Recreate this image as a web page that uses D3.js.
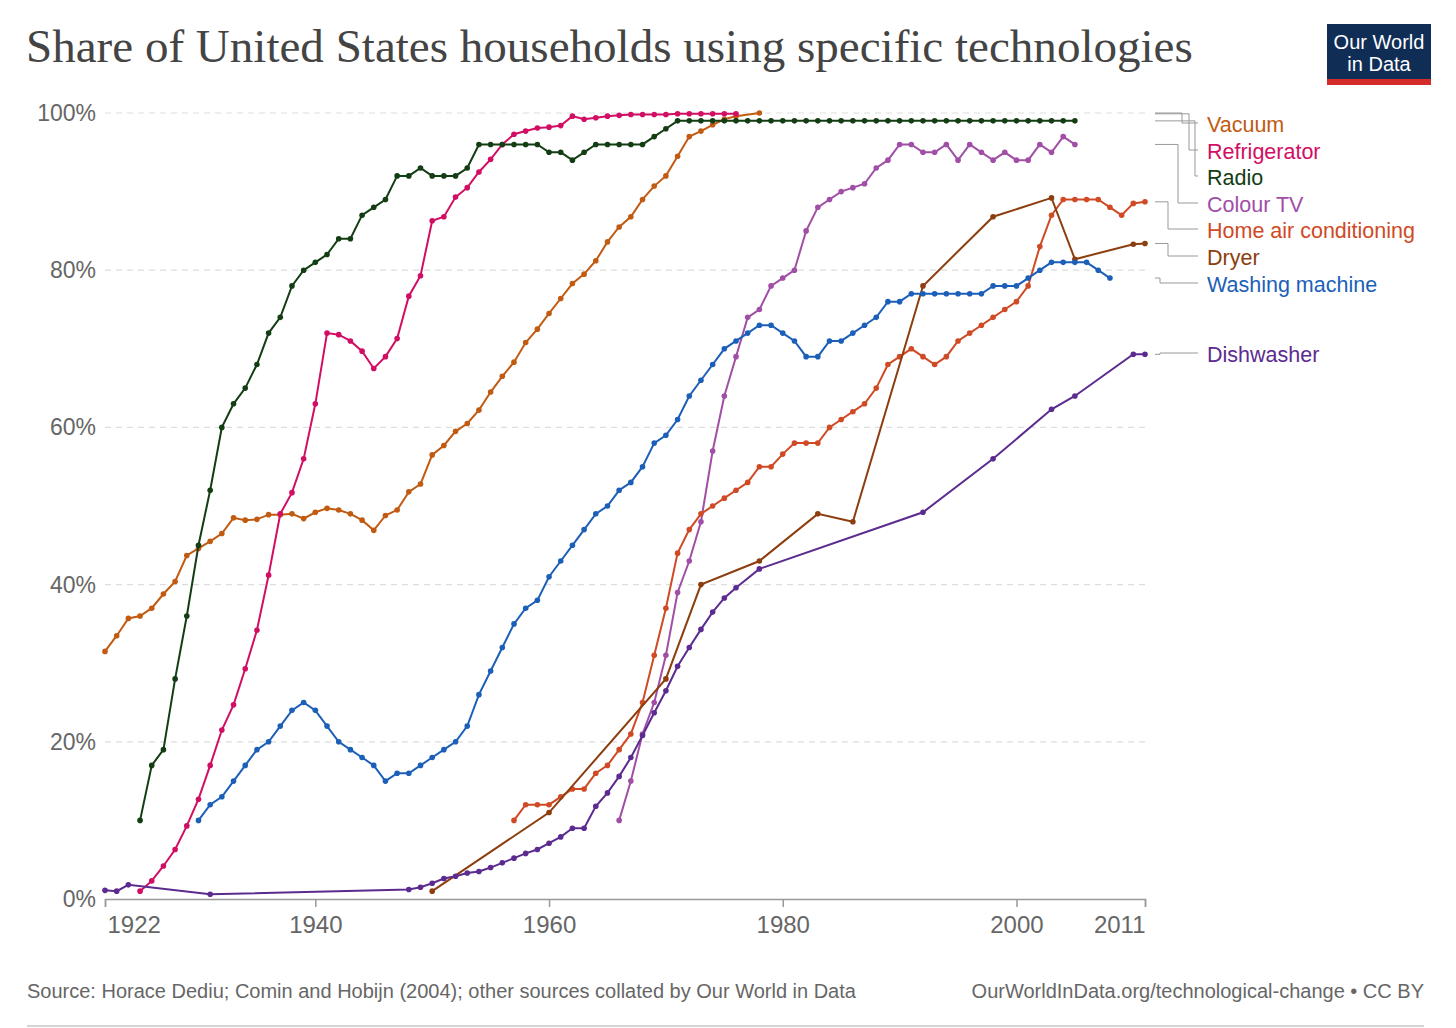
<!DOCTYPE html>
<html><head><meta charset="utf-8">
<script src="https://cdn.jsdelivr.net/npm/d3@7"></script>
<style>body{margin:0;background:#fff}svg{display:block}</style>
</head><body>
<svg id="c" width="1456" height="1028"></svg>
<script>
const vacuum=[[1922,31.5],[1923,33.5],[1924,35.7],[1925,36],[1926,37],[1927,38.8],[1928,40.4],[1929,43.7],[1930,44.6],[1931,45.5],[1932,46.5],[1933,48.5],[1934,48.2],[1935,48.3],[1936,48.9],[1937,48.9],[1938,49],[1939,48.4],[1940,49.2],[1941,49.7],[1942,49.5],[1943,49],[1944,48.2],[1945,46.9],[1946,48.8],[1947,49.5],[1948,51.8],[1949,52.8],[1950,56.5],[1951,57.7],[1952,59.5],[1953,60.5],[1954,62.2],[1955,64.5],[1956,66.5],[1957,68.3],[1958,70.8],[1959,72.5],[1960,74.5],[1961,76.4],[1962,78.3],[1963,79.5],[1964,81.2],[1965,83.6],[1966,85.5],[1967,86.8],[1968,89],[1969,90.7],[1970,92],[1971,94.5],[1972,97],[1973,97.7],[1974,98.5],[1975,99.2],[1976,99.6],[1978,100]];
const refrigerator=[[1925,1],[1926,2.3],[1927,4.2],[1928,6.3],[1929,9.3],[1930,12.7],[1931,17],[1932,21.5],[1933,24.7],[1934,29.3],[1935,34.2],[1936,41.2],[1937,49],[1938,51.7],[1939,56],[1940,63],[1941,72],[1942,71.8],[1943,71],[1944,69.7],[1945,67.5],[1946,69],[1947,71.3],[1948,76.7],[1949,79.3],[1950,86.3],[1951,86.8],[1952,89.3],[1953,90.5],[1954,92.5],[1955,94.1],[1956,96],[1957,97.3],[1958,97.7],[1959,98.1],[1960,98.2],[1961,98.4],[1962,99.6],[1963,99.2],[1964,99.4],[1965,99.6],[1966,99.7],[1967,99.8],[1968,99.8],[1969,99.8],[1970,99.8],[1971,99.9],[1972,99.9],[1973,99.9],[1974,99.9],[1975,99.9],[1976,99.9]];
const radio=[[1925,10],[1926,17],[1927,19],[1928,28],[1929,36],[1930,45],[1931,52],[1932,60],[1933,63],[1934,65],[1935,68],[1936,72],[1937,74],[1938,78],[1939,80],[1940,81],[1941,82],[1942,84],[1943,84],[1944,87],[1945,88],[1946,89],[1947,92],[1948,92],[1949,93],[1950,92],[1951,92],[1952,92],[1953,93],[1954,96],[1955,96],[1956,96],[1957,96],[1958,96],[1959,96],[1960,95],[1961,95],[1962,94],[1963,95],[1964,96],[1965,96],[1966,96],[1967,96],[1968,96],[1969,97],[1970,98],[1971,99],[1972,99],[1973,99],[1974,99],[1975,99],[1976,99],[1977,99],[1978,99],[1979,99],[1980,99],[1981,99],[1982,99],[1983,99],[1984,99],[1985,99],[1986,99],[1987,99],[1988,99],[1989,99],[1990,99],[1991,99],[1992,99],[1993,99],[1994,99],[1995,99],[1996,99],[1997,99],[1998,99],[1999,99],[2000,99],[2001,99],[2002,99],[2003,99],[2004,99],[2005,99]];
const colourTV=[[1966,10],[1967,15],[1968,21],[1969,25],[1970,31],[1971,39],[1972,43],[1973,48],[1974,57],[1975,64],[1976,69],[1977,74],[1978,75],[1979,78],[1980,79],[1981,80],[1982,85],[1983,88],[1984,89],[1985,90],[1986,90.5],[1987,91],[1988,93],[1989,94],[1990,96],[1991,96],[1992,95],[1993,95],[1994,96],[1995,94],[1996,96],[1997,95],[1998,94],[1999,95],[2000,94],[2001,94],[2002,96],[2003,95],[2004,97],[2005,96]];
const airCon=[[1957,10],[1958,12],[1959,12],[1960,12],[1961,13],[1962,14],[1963,14],[1964,16],[1965,17],[1966,19],[1967,21],[1968,25],[1969,31],[1970,37],[1971,44],[1972,47],[1973,49],[1974,50],[1975,51],[1976,52],[1977,53],[1978,55],[1979,55],[1980,56.6],[1981,58],[1982,58],[1983,58],[1984,60],[1985,61],[1986,62],[1987,63],[1988,65],[1989,68],[1990,69],[1991,70],[1992,69],[1993,68],[1994,69],[1995,71],[1996,72],[1997,73],[1998,74],[1999,75],[2000,76],[2001,78],[2002,83],[2003,87],[2004,89],[2005,89],[2006,89],[2007,89],[2008,88],[2009,87],[2010,88.5],[2011,88.7]];
const dryer=[[1950,1],[1960,11],[1970,28],[1973,40],[1978,43],[1983,49],[1986,48],[1992,78],[1998,86.8],[2003,89.2],[2005,81.4],[2010,83.3],[2011,83.4]];
const washer=[[1930,10],[1931,12],[1932,13],[1933,15],[1934,17],[1935,19],[1936,20],[1937,22],[1938,24],[1939,25],[1940,24],[1941,22],[1942,20],[1943,19],[1944,18],[1945,17],[1946,15],[1947,16],[1948,16],[1949,17],[1950,18],[1951,19],[1952,20],[1953,22],[1954,26],[1955,29],[1956,32],[1957,35],[1958,37],[1959,38],[1960,41],[1961,43],[1962,45],[1963,47],[1964,49],[1965,50],[1966,52],[1967,53],[1968,55],[1969,58],[1970,59],[1971,61],[1972,64],[1973,66],[1974,68],[1975,70],[1976,71],[1977,72],[1978,73],[1979,73],[1980,72],[1981,71],[1982,69],[1983,69],[1984,71],[1985,71],[1986,72],[1987,73],[1988,74],[1989,76],[1990,76],[1991,77],[1992,77],[1993,77],[1994,77],[1995,77],[1996,77],[1997,77],[1998,78],[1999,78],[2000,78],[2001,79],[2002,80],[2003,81],[2004,81],[2005,81],[2006,81],[2007,80],[2008,79]];
const dishwasher=[[1922,1.1],[1923,1],[1924,1.8],[1931,0.6],[1948,1.2],[1949,1.5],[1950,2],[1951,2.6],[1952,2.9],[1953,3.3],[1954,3.5],[1955,4],[1956,4.6],[1957,5.2],[1958,5.8],[1959,6.3],[1960,7.1],[1961,7.9],[1962,9],[1963,9],[1964,11.8],[1965,13.5],[1966,15.6],[1967,18],[1968,20.8],[1969,23.7],[1970,26.5],[1971,29.6],[1972,32],[1973,34.3],[1974,36.5],[1975,38.3],[1976,39.6],[1978,42],[1992,49.2],[1998,56],[2003,62.3],[2005,64],[2010,69.3],[2011,69.3]];
const seriesNames=["Vacuum","Refrigerator","Radio","Colour TV","Home air conditioning","Dryer","Washing machine","Dishwasher"];
const seriesData=[vacuum,refrigerator,radio,colourTV,airCon,dryer,washer,dishwasher];
const seriesColors=["#c15b12","#d10e63","#133d13","#a04ea6","#cf4a25","#8c3e0e","#1b5fb8","#5c2b8f"];
const labelY=[125,152,178,205,231,258,285,355];
const yTicks=[0,20,40,60,80,100];
const xTicks=[1922,1940,1960,1980,2000,2011];

const svg=d3.select("#c");
const x=d3.scaleLinear().domain([1922,2011]).range([105,1145]);
const y=d3.scaleLinear().domain([0,100]).range([899,113]);
const F="'Liberation Sans', Arial, sans-serif";

const t=svg.append("text").attr("x",26).attr("y",62).attr("font-family","'Liberation Serif', 'DejaVu Serif', serif")
 .attr("font-size",42).attr("fill","#444").text("Share of United States households using specific technologies");
const tw=t.node().getComputedTextLength(); t.attr("font-size",42*1167/tw);
svg.append("rect").attr("x",1327).attr("y",24).attr("width",104).attr("height",61).attr("fill","#0f2d55");
svg.append("rect").attr("x",1327).attr("y",79).attr("width",104).attr("height",6).attr("fill","#d42b2b");
svg.append("text").attr("x",1379).attr("y",49).attr("text-anchor","middle").attr("font-family",F).attr("font-size",20).attr("fill","#fff").text("Our World");
svg.append("text").attr("x",1379).attr("y",71).attr("text-anchor","middle").attr("font-family",F).attr("font-size",20).attr("fill","#fff").text("in Data");

svg.append("g").selectAll("line").data(yTicks.filter(d=>d>0)).join("line")
 .attr("x1",105).attr("x2",1145).attr("y1",d=>y(d)).attr("y2",d=>y(d))
 .attr("stroke","#ddd").attr("stroke-dasharray","6,5").attr("stroke-width",1.2);
svg.append("g").selectAll("text").data(yTicks).join("text")
 .attr("x",96).attr("y",d=>y(d)+8).attr("text-anchor","end").attr("font-family",F).attr("font-size",23).attr("fill","#666").text(d=>d+"%");
const xa=svg.append("g").attr("transform","translate(0,899)").call(d3.axisBottom(x).tickValues(xTicks).tickFormat(d3.format("d")).tickSize(8));
xa.select(".domain").attr("stroke","#999").attr("stroke-width",1.5);
xa.selectAll(".tick line").attr("stroke","#999").attr("stroke-width",1.5);
xa.selectAll(".tick text").attr("font-family",F).attr("font-size",24).attr("fill","#666").attr("dy","0.95em")
 .attr("text-anchor",d=>d===1922?"start":d===2011?"end":"middle").attr("dx",d=>d===1922?2:0);

const line=d3.line().x(d=>x(d[0])).y(d=>y(d[1]));
seriesData.forEach((s,i)=>{
 const g=svg.append("g");
 g.append("path").datum(s).attr("d",line).attr("fill","none").attr("stroke",seriesColors[i]).attr("stroke-width",2);
 g.selectAll("circle").data(s).join("circle").attr("cx",d=>x(d[0])).attr("cy",d=>y(d[1])).attr("r",2.8).attr("fill",seriesColors[i]);
 const last=s[s.length-1];
 const ly=labelY[i], ey=y(last[1]);
 const xs=[1182,1189,1195,1178,1168,1168,1160,1160][i];
 svg.append("path").attr("d",`M1155,${ey}H${xs}V${ly-2}H1198`).attr("fill","none").attr("stroke","#999").attr("stroke-width",1);
 svg.append("text").attr("x",1207).attr("y",ly+7).attr("font-family",F).attr("font-size",21.5).attr("fill",seriesColors[i]).text(seriesNames[i]);
});

svg.append("text").attr("x",27).attr("y",998).attr("font-family",F).attr("font-size",20).attr("fill","#666")
 .text("Source: Horace Dediu; Comin and Hobijn (2004); other sources collated by Our World in Data");
svg.append("text").attr("x",1424).attr("y",998).attr("text-anchor","end").attr("font-family",F).attr("font-size",20).attr("fill","#666")
 .text("OurWorldInData.org/technological-change • CC BY");
svg.append("line").attr("x1",27).attr("x2",1424).attr("y1",1026).attr("y2",1026).attr("stroke","#aaa");
</script></body></html>
